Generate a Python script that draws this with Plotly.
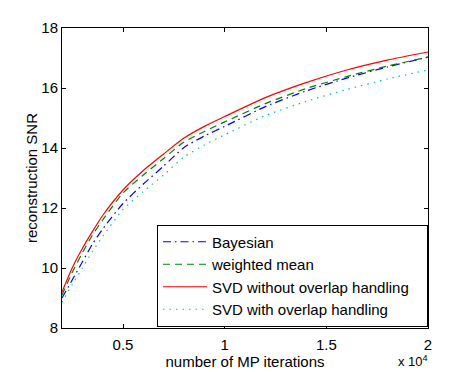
import plotly.graph_objects as go

iterations = [2000, 2500, 3000, 3500, 4000, 5000, 6000, 7000, 8000, 9000, 10000, 12000, 14000, 16000, 18000, 20000]
bayesian = [9.0, 9.6, 10.2, 10.8, 11.3, 12.15, 12.8, 13.4, 14.02, 14.4, 14.72, 15.38, 15.9, 16.33, 16.7, 17.03]
weighted_mean = [9.1, 9.85, 10.5, 11.1, 11.6, 12.5, 13.1, 13.65, 14.2, 14.55, 14.87, 15.48, 15.98, 16.38, 16.73, 17.03]
svd_without = [9.2, 10.0, 10.65, 11.22, 11.75, 12.6, 13.25, 13.8, 14.33, 14.72, 15.05, 15.68, 16.18, 16.6, 16.93, 17.2]
svd_with = [8.85, 9.45, 10.0, 10.55, 11.05, 11.95, 12.55, 13.1, 13.7, 14.1, 14.44, 15.08, 15.55, 15.95, 16.3, 16.6]

x_tickvals = [5000, 10000, 15000, 20000]
x_ticktext = ["0.5", "1", "1.5", "2"]
y_tickvals = [8, 10, 12, 14, 16, 18]

series_names = ["Bayesian", "weighted mean", "SVD without overlap handling", "SVD with overlap handling"]
series_values = [bayesian, weighted_mean, svd_without, svd_with]
series_colors = ["#0000ff", "#008000", "#ff0000", "#00bfbf"]
series_dashes = ["8px,4px,1.5px,4px", "7px,5px", "solid", "1.5px,5px"]

FAM = "Liberation Sans, Arial, Helvetica, sans-serif"
PAD = "\u00a0\u00a0\u00a0"  # right padding inside the legend box

fig = go.Figure()
for name, ys, color, dash in zip(series_names, series_values, series_colors, series_dashes):
    fig.add_trace(go.Scatter(x=iterations, y=ys, name=name + PAD, mode="lines",
                             line=dict(color=color, dash=dash, width=1.2, shape="spline", smoothing=0.6)))

# page body adds an 8px offset; compensate in size/margins
fig.update_layout(
    width=466, height=364,
    margin=dict(l=54, r=46, t=20, b=44),
    paper_bgcolor="white", plot_bgcolor="white",
    font=dict(family=FAM, size=15, color="black"),
    showlegend=True,
    legend=dict(x=1, y=0.005, xanchor="right", yanchor="bottom",
                bordercolor="black", borderwidth=1, bgcolor="white",
                font=dict(family=FAM, size=15, color="black"),
                tracegroupgap=0, itemwidth=44),
    xaxis=dict(range=[2000, 20000], tickvals=x_tickvals, ticktext=x_ticktext,
               ticks="inside", ticklen=4, tickcolor="black", showgrid=False, zeroline=False,
               showline=True, linecolor="black", linewidth=1, mirror="ticks",
               ticklabelstandoff=3, automargin=False,
               title=dict(text="number of MP iterations", standoff=3,
                          font=dict(family=FAM, size=15, color="black"))),
    yaxis=dict(range=[8, 18], tickvals=y_tickvals,
               ticks="inside", ticklen=4, tickcolor="black", showgrid=False, zeroline=False,
               showline=True, linecolor="black", linewidth=1, mirror="ticks",
               automargin=False,
               title=dict(text="reconstruction SNR", standoff=0,
                          font=dict(family=FAM, size=15, color="black"))),
)
fig.add_annotation(text="x 10<sup>4</sup>", xref="paper", yref="paper", x=0.958, y=-0.11,
                   xanchor="center", yanchor="middle", showarrow=False,
                   font=dict(family=FAM, size=13, color="black"))
fig.write_html("out.html")
